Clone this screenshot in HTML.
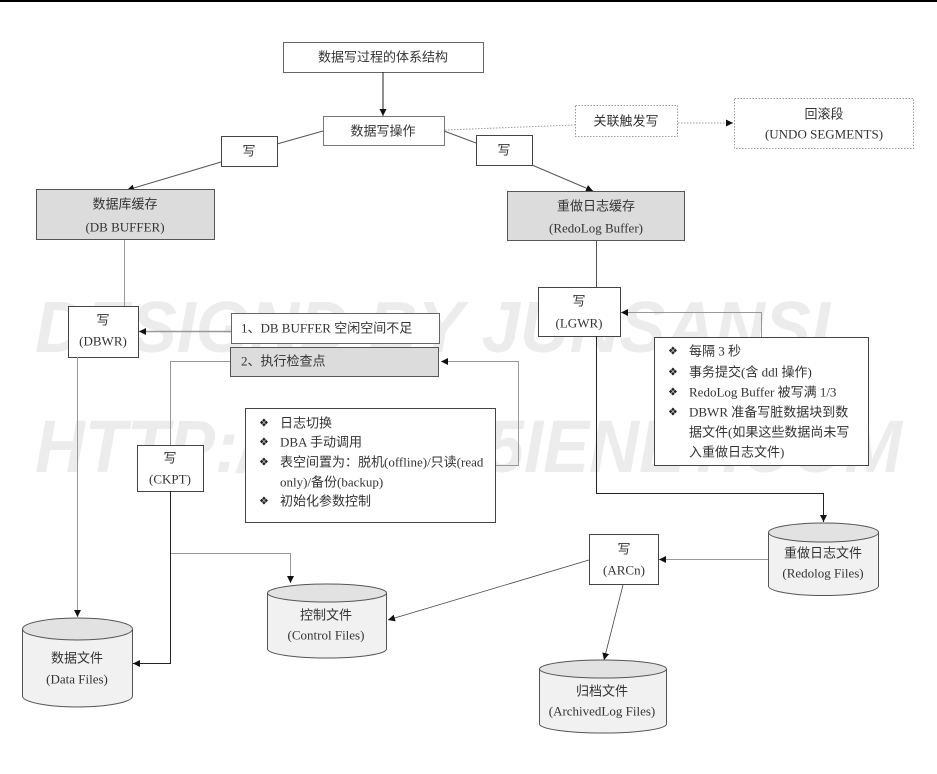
<!DOCTYPE html>
<html>
<head>
<meta charset="utf-8">
<style>
html,body{margin:0;padding:0;background:#fff;}
svg{display:block;}
text{font-family:"Liberation Serif","Noto Sans CJK SC",serif;font-size:13px;fill:#333;}
text.wm{font-family:"Liberation Sans",sans-serif;font-weight:bold;font-style:italic;fill:#ececec;}
text.wm1{font-size:72px;}
text.wm2{font-size:74px;}
text.bl{font-family:"DejaVu Sans",sans-serif;font-size:11px;fill:#222;}
</style>
</head>
<body>
<svg width="937" height="774" viewBox="0 0 937 774" xmlns="http://www.w3.org/2000/svg">
<defs>
  <marker id="ar" markerWidth="8" markerHeight="8" refX="7" refY="4" orient="auto" markerUnits="userSpaceOnUse">
    <path d="M0,0.5 L7,4 L0,7.5 z" fill="#111"/>
  </marker>
</defs>
<rect x="0" y="0" width="937" height="2" fill="#000"/>

<!-- watermark (behind) -->
<text class="wm wm1" x="35" y="352" textLength="795" lengthAdjust="spacingAndGlyphs">DESIGND BY JUNSANSI</text>
<text class="wm wm2" x="35" y="472" textLength="867" lengthAdjust="spacingAndGlyphs">HTTP://WWW.5IENET.COM</text>

<!-- title -->
<rect x="283.5" y="42.5" width="200" height="30" fill="#fff" stroke="#666"/>
<text x="383" y="57" text-anchor="middle" dominant-baseline="central">数据写过程的体系结构</text>
<line x1="383" y1="72" x2="383" y2="116" stroke="#222" marker-end="url(#ar)"/>

<!-- 数据写操作 -->
<rect x="323.5" y="116.5" width="121" height="29" fill="#fff" stroke="#777"/>
<text x="383" y="131" text-anchor="middle" dominant-baseline="central">数据写操作</text>

<!-- dotted trigger -->
<line x1="445" y1="130" x2="575" y2="125" stroke="#999" stroke-dasharray="1.5,1.5"/>
<rect x="575.5" y="105.5" width="102" height="31" fill="#fff" stroke="#999" stroke-dasharray="1.5,1.5"/>
<text x="626" y="121" text-anchor="middle" dominant-baseline="central">关联触发写</text>
<line x1="678" y1="123" x2="733" y2="123" stroke="#999" stroke-dasharray="1.5,1.5" marker-end="url(#ar)"/>
<rect x="734.5" y="98.5" width="179" height="50" fill="#fff" stroke="#999" stroke-dasharray="1.5,1.5"/>
<text x="824" y="114" text-anchor="middle" dominant-baseline="central">回滚段</text>
<text x="824" y="134" text-anchor="middle" dominant-baseline="central">(UNDO SEGMENTS)</text>

<!-- left write -->
<line x1="323" y1="131" x2="277" y2="144" stroke="#555"/>
<rect x="221.5" y="136.5" width="56" height="30" fill="#fff" stroke="#444"/>
<text x="249" y="151" text-anchor="middle" dominant-baseline="central">写</text>
<line x1="221" y1="162" x2="127" y2="190" stroke="#555" marker-end="url(#ar)"/>
<rect x="36.5" y="189.5" width="178" height="50" fill="#dcdcdc" stroke="#555"/>
<text x="125" y="204" text-anchor="middle" dominant-baseline="central">数据库缓存</text>
<text x="125" y="227" text-anchor="middle" dominant-baseline="central">(DB BUFFER)</text>

<!-- right write -->
<line x1="444" y1="131" x2="476" y2="143" stroke="#555"/>
<rect x="476.5" y="135.5" width="56" height="30" fill="#fff" stroke="#444"/>
<text x="504" y="150" text-anchor="middle" dominant-baseline="central">写</text>
<line x1="532" y1="165" x2="593" y2="191" stroke="#555" marker-end="url(#ar)"/>
<rect x="507.5" y="191.5" width="177" height="49" fill="#dcdcdc" stroke="#555"/>
<text x="596" y="206" text-anchor="middle" dominant-baseline="central">重做日志缓存</text>
<text x="596" y="228" text-anchor="middle" dominant-baseline="central">(RedoLog Buffer)</text>

<!-- DBWR -->
<line x1="124.5" y1="240" x2="124.5" y2="306" stroke="#999"/>
<rect x="68.5" y="306.5" width="70" height="51" fill="#fff" stroke="#444"/>
<text x="103" y="320" text-anchor="middle" dominant-baseline="central">写</text>
<text x="103" y="341" text-anchor="middle" dominant-baseline="central">(DBWR)</text>

<!-- LGWR -->
<line x1="596.5" y1="240" x2="596.5" y2="287" stroke="#555"/>
<rect x="538.5" y="287.5" width="82" height="49" fill="#fff" stroke="#444"/>
<text x="579" y="301" text-anchor="middle" dominant-baseline="central">写</text>
<text x="579" y="323" text-anchor="middle" dominant-baseline="central">(LGWR)</text>

<!-- box 1 & 2 -->
<line x1="231" y1="331.5" x2="139" y2="331.5" stroke="#999" stroke-width="1.5" marker-end="url(#ar)"/>
<rect x="231.5" y="313.5" width="208" height="30" fill="#fff" stroke="#666"/>
<text x="241" y="328" dominant-baseline="central">1、DB BUFFER 空闲空间不足</text>
<rect x="230.5" y="347.5" width="208" height="29" fill="#dcdcdc" stroke="#555"/>
<text x="241" y="361" dominant-baseline="central">2、执行检查点</text>
<polyline points="230,361.5 170.5,361.5 170.5,445" fill="none" stroke="#999"/>

<!-- CKPT -->
<rect x="137.5" y="445.5" width="66" height="46" fill="#fff" stroke="#444"/>
<text x="170" y="458" text-anchor="middle" dominant-baseline="central">写</text>
<text x="170" y="479" text-anchor="middle" dominant-baseline="central">(CKPT)</text>

<!-- left bullet box -->
<polyline points="496,465.5 518.5,465.5 518.5,361.5 441,361.5" fill="none" stroke="#999" marker-end="url(#ar)"/>
<rect x="245.5" y="408.5" width="250" height="114" fill="#fff" stroke="#444"/>
<text class="bl" x="259" y="423" dominant-baseline="central">❖</text>
<text x="280" y="423" dominant-baseline="central">日志切换</text>
<text class="bl" x="259" y="442" dominant-baseline="central">❖</text>
<text x="280" y="442" dominant-baseline="central">DBA 手动调用</text>
<text class="bl" x="259" y="462" dominant-baseline="central">❖</text>
<text x="280" y="462" dominant-baseline="central">表空间置为：脱机(offline)/只读(read</text>
<text x="280" y="482" dominant-baseline="central">only)/备份(backup)</text>
<text class="bl" x="259" y="501" dominant-baseline="central">❖</text>
<text x="280" y="501" dominant-baseline="central">初始化参数控制</text>

<!-- right bullet box -->
<polyline points="761.5,337 761.5,312.5 621,312.5" fill="none" stroke="#999" marker-end="url(#ar)"/>
<rect x="654.5" y="337.5" width="214" height="128" fill="#fff" stroke="#444"/>
<text class="bl" x="668" y="351" dominant-baseline="central">❖</text>
<text x="689" y="351" dominant-baseline="central">每隔 3 秒</text>
<text class="bl" x="668" y="372" dominant-baseline="central">❖</text>
<text x="689" y="372" dominant-baseline="central">事务提交(含 ddl 操作)</text>
<text class="bl" x="668" y="392" dominant-baseline="central">❖</text>
<text x="689" y="392" dominant-baseline="central">RedoLog Buffer 被写满 1/3</text>
<text class="bl" x="668" y="412" dominant-baseline="central">❖</text>
<text x="689" y="412" dominant-baseline="central">DBWR 准备写脏数据块到数</text>
<text x="689" y="432" dominant-baseline="central">据文件(如果这些数据尚未写</text>
<text x="689" y="452" dominant-baseline="central">入重做日志文件)</text>

<!-- LGWR to redo files -->
<polyline points="596.5,336 596.5,493.5 823.5,493.5 823.5,522" fill="none" stroke="#222" marker-end="url(#ar)"/>

<!-- DBWR to data files -->
<line x1="77.5" y1="357" x2="77.5" y2="617" stroke="#999" marker-end="url(#ar)"/>
<!-- CKPT lines -->
<polyline points="170.5,491 170.5,663.5 133,663.5" fill="none" stroke="#222" marker-end="url(#ar)"/>
<polyline points="171,553.5 290.5,553.5 290.5,583" fill="none" stroke="#999" marker-end="url(#ar)"/>

<!-- cylinders -->
<g stroke="#555" stroke-width="1">
  <path d="M22.5,629 L22.5,696 A55,11 0 0 0 132.5,696 L132.5,629" fill="#f1f1f1"/>
  <ellipse cx="77.5" cy="629" rx="55" ry="11" fill="#e2e2e2"/>
  <path d="M267.5,593 L267.5,649 A59.5,9 0 0 0 386.5,649 L386.5,593" fill="#f1f1f1"/>
  <ellipse cx="327" cy="593" rx="59.5" ry="9" fill="#e2e2e2"/>
  <path d="M768.5,532.5 L768.5,586 A55,9.5 0 0 0 878.5,586 L878.5,532.5" fill="#f1f1f1"/>
  <ellipse cx="823.5" cy="532.5" rx="55" ry="9.5" fill="#e2e2e2"/>
  <path d="M539.5,669 L539.5,724 A63.5,9 0 0 0 666.5,724 L666.5,669" fill="#f1f1f1"/>
  <ellipse cx="603" cy="669" rx="63.5" ry="9" fill="#e2e2e2"/>
</g>
<text x="77" y="658" text-anchor="middle" dominant-baseline="central">数据文件</text>
<text x="77" y="679" text-anchor="middle" dominant-baseline="central">(Data Files)</text>
<text x="326" y="615" text-anchor="middle" dominant-baseline="central">控制文件</text>
<text x="326" y="635" text-anchor="middle" dominant-baseline="central">(Control Files)</text>
<text x="823" y="553" text-anchor="middle" dominant-baseline="central">重做日志文件</text>
<text x="823" y="573" text-anchor="middle" dominant-baseline="central">(Redolog Files)</text>
<text x="602" y="691" text-anchor="middle" dominant-baseline="central">归档文件</text>
<text x="602" y="711" text-anchor="middle" dominant-baseline="central">(ArchivedLog Files)</text>

<!-- ARCn -->
<rect x="589.5" y="534.5" width="69" height="50" fill="#fff" stroke="#444"/>
<text x="624" y="549" text-anchor="middle" dominant-baseline="central">写</text>
<text x="624" y="570" text-anchor="middle" dominant-baseline="central">(ARCn)</text>
<line x1="768" y1="559.5" x2="659" y2="559.5" stroke="#999" marker-end="url(#ar)"/>
<line x1="589" y1="560" x2="388" y2="620" stroke="#444" stroke-width="0.8" marker-end="url(#ar)"/>
<line x1="623" y1="585" x2="604" y2="660" stroke="#444" stroke-width="0.8" marker-end="url(#ar)"/>
</svg>
</body>
</html>
